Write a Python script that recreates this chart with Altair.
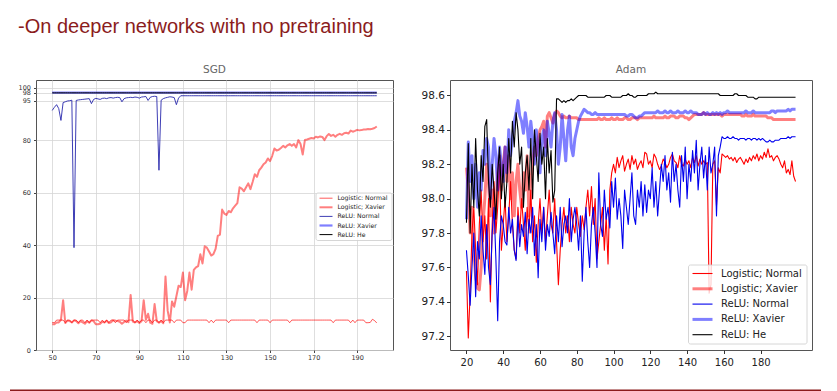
import altair as alt
import pandas as pd

TITLE = "-On deeper networks with no pretraining"
SGD_SERIES = ["Logistic: Normal", "Logistic; Xavier", "ReLU: Normal", "ReLU: Xavier", "ReLU: He"]
ADAM_SERIES = ["Logistic; Normal", "Logistic; Xavier", "ReLU: Normal", "ReLU: Xavier", "ReLU: He"]

sgd_epochs = list(range(50, 200))
sgd_x_ticks = [50, 70, 90, 110, 130, 150, 170, 190]
sgd_y_ticks = [0, 20, 40, 60, 80, 95, 98, 100]
adam_epochs = list(range(20, 200))
adam_x_ticks = [20, 40, 60, 80, 100, 120, 140, 160, 180]
adam_y_ticks = [97.2, 97.4, 97.6, 97.8, 98.0, 98.2, 98.4, 98.6]

# ---------------- SGD (epochs 50..199) ----------------
sgd_log_normal = [
    10.5, 10.4, 11.4, 11.4, 11.4, 11.4, 10.4, 11.4, 11.4, 10.4,
    11.4, 11.4, 10.4, 11.4, 11.4, 10.4, 11.4, 10.4, 11.4, 11.4,
    11.4, 11.4, 10.4, 11.4, 10.4, 11.4, 10.4, 11.4, 11.4, 10.4,
    11.4, 11.4, 11.4, 11.4, 10.4, 11.4, 11.4, 11.4, 10.4, 11.4,
    10.4, 11.4, 11.4, 10.4, 11.4, 11.4, 10.4, 11.4, 11.4, 10.4,
    11.4, 10.4, 11.4, 11.4, 11.4, 11.4, 10.4, 11.4, 11.4, 11.4,
    10.4, 10.4, 11.4, 11.4, 11.4, 11.4, 11.4, 11.4, 11.4, 11.4,
    11.4, 11.4, 10.4, 11.4, 10.4, 11.4, 11.4, 11.4, 11.4, 11.4,
    11.4, 10.4, 11.4, 11.4, 11.4, 11.4, 11.4, 11.4, 11.4, 11.4,
    11.4, 11.4, 11.4, 11.4, 10.4, 11.4, 11.4, 11.4, 11.4, 11.4,
    10.4, 11.4, 11.4, 11.4, 11.4, 11.4, 11.4, 11.4, 11.4, 10.4,
    11.4, 11.4, 11.4, 11.4, 11.4, 11.4, 11.4, 11.4, 11.4, 11.4,
    11.4, 11.4, 11.4, 11.4, 11.4, 11.4, 11.4, 11.4, 11.4, 10.4,
    11.4, 11.4, 11.4, 11.4, 11.4, 11.4, 11.4, 10.4, 11.4, 10.4,
    11.4, 11.4, 11.4, 11.4, 10.4, 10.4, 10.5, 11.7, 11.2, 10.3,
]
sgd_log_xavier = [
    9.8, 9.8, 10.5, 10.5, 11.5, 19.0, 10.3, 11.2, 11.0, 10.5,
    11.3, 11.0, 10.2, 11.0, 10.5, 10.0, 11.0, 10.4, 11.3, 11.0,
    9.8, 9.8, 10.0, 10.8, 10.5, 11.2, 10.3, 10.6, 11.3, 11.2,
    11.0, 10.8, 10.0, 10.7, 11.2, 10.6, 21.0, 10.8, 10.5, 11.0,
    10.3, 11.0, 19.0, 11.5, 13.8, 10.4, 10.0, 17.5, 11.0, 10.4,
    11.0, 10.2, 28.0, 15.0, 10.5, 18.5, 16.5, 20.5, 24.5, 24.0,
    29.5, 19.0, 22.5, 29.5, 23.0, 30.5, 31.5, 32.0, 36.5, 33.0,
    39.5, 39.0, 37.5, 36.0, 36.5, 38.5, 43.5, 44.0, 53.5, 52.0,
    51.5, 53.0, 52.5, 54.0, 55.0, 56.0, 62.0, 61.5, 60.5, 62.0,
    63.5, 61.3, 64.0, 67.0, 66.0, 68.5, 69.5, 70.8, 71.5, 73.0,
    72.0, 74.0, 76.8, 76.0, 76.3, 77.0, 77.8, 77.2, 78.0, 78.5,
    77.8, 78.5, 77.2, 80.0, 78.5, 74.5, 80.0, 80.2, 80.5, 80.8,
    80.6, 81.3, 81.0, 81.4, 81.2, 80.0, 81.5, 82.3, 81.6, 82.0,
    81.3, 82.0, 82.4, 82.0, 82.6, 82.8, 82.5, 83.6, 83.2, 83.5,
    83.9, 83.7, 83.8, 84.0, 84.0, 84.2, 84.1, 84.3, 84.6, 85.2,
]
sgd_relu_normal = [
    91.3, 92.5, 93.5, 92.0, 87.5, 94.3, 94.6, 94.9, 95.0, 95.2,
    39.0, 95.1, 95.3, 95.4, 95.5, 95.6, 95.7, 95.8, 93.9, 95.5,
    95.9, 95.7, 95.5, 95.9, 96.0, 95.8, 96.1, 96.2, 96.0, 96.2,
    96.3, 96.2, 94.6, 95.8, 96.1, 96.2, 96.3, 96.2, 96.4, 96.3,
    96.0, 96.4, 96.5, 96.6, 95.1, 96.3, 96.6, 96.7, 96.6, 68.5,
    95.2, 95.8, 96.1, 96.3, 96.5, 96.4, 96.2, 93.5, 96.0, 96.9,
] + [96.9] * 90
sgd_relu_xavier = [98.1] * 150
sgd_relu_he = [98.0] * 150

# ---------------- Adam (epochs 20..199) ----------------
adam_log_normal = [
    97.58, 97.19, 97.45, 97.80, 97.95, 97.70, 97.50, 97.85, 98.05, 97.75,
    97.90, 97.65, 98.00, 97.40, 97.85, 98.10, 97.80, 97.95, 98.20, 97.70,
    97.85, 98.00, 97.75, 97.90, 98.10, 97.85, 97.70, 97.65, 97.95, 97.80,
    98.00, 97.85, 97.70, 97.95, 97.80, 98.05, 97.75, 97.90, 97.63, 97.85,
    98.00, 97.80, 97.95, 97.75, 97.90, 98.05, 97.85, 97.80, 98.00, 97.75,
    97.50, 97.70, 97.85, 97.95, 97.80, 97.90, 97.75, 97.95, 97.85, 97.80,
    97.95, 97.85, 97.78, 97.90, 97.82, 97.95, 98.05, 97.90, 98.07, 97.85,
    98.00, 97.65, 97.75, 97.85, 97.95, 97.70, 97.90, 97.62, 98.05, 98.15,
    98.20, 98.15, 98.24, 98.18, 98.22, 98.25, 98.16, 98.20, 98.23, 98.17,
    98.25, 98.20, 98.23, 98.17, 98.20, 98.22, 98.18, 98.27, 98.26, 98.20,
    98.22, 98.18, 98.26, 98.24, 98.20, 98.17, 98.19, 98.23, 98.21, 98.18,
    98.20, 98.24, 98.26, 98.22, 98.21, 98.18, 98.25, 98.20, 98.19, 98.23,
    98.20, 98.22, 98.18, 98.24, 98.21, 98.25, 98.19, 98.23, 98.20, 98.22,
    98.20, 98.21, 97.45, 97.50, 98.20, 98.22, 97.96, 98.18, 98.15, 98.26,
    98.25, 98.24, 98.25, 98.23, 98.24, 98.22, 98.24, 98.21, 98.23, 98.24,
    98.22, 98.20, 98.23, 98.21, 98.24, 98.22, 98.25, 98.23, 98.26, 98.22,
    98.25, 98.23, 98.27, 98.24, 98.29, 98.24, 98.25, 98.22, 98.24, 98.25,
    98.23, 98.20, 98.18, 98.22, 98.15, 98.17, 98.14, 98.22, 98.13, 98.10,
]
adam_log_xavier = [
    98.18, 98.05, 97.80, 97.95, 97.70, 97.55, 97.48, 97.47, 97.60, 97.85,
    98.00, 98.20, 98.10, 97.90, 98.05, 97.80, 97.95, 98.15, 98.25, 98.05,
    98.20, 98.30, 98.10, 98.25, 98.00, 98.15, 97.90, 98.10, 98.20, 98.05,
    97.95, 98.15, 98.05, 98.25, 97.90, 98.10, 98.20, 98.30, 98.25, 98.35,
    98.40, 98.42, 98.45, 98.30, 98.48, 98.50, 98.47, 98.44, 98.49, 98.51,
    98.50, 98.48, 98.47, 98.48, 98.47, 98.47, 98.48, 98.47, 98.47, 98.47,
    98.47, 98.46, 98.46, 98.46, 98.46, 98.46, 98.46, 98.46, 98.46, 98.46,
    98.46, 98.46, 98.47, 98.46, 98.46, 98.47, 98.46, 98.46, 98.46, 98.47,
    98.46, 98.46, 98.47, 98.46, 98.46, 98.46, 98.47, 98.47, 98.46, 98.46,
    98.47, 98.47, 98.47, 98.46, 98.47, 98.47, 98.47, 98.47, 98.47, 98.47,
    98.47, 98.47, 98.48, 98.47, 98.47, 98.47, 98.47, 98.47, 98.48, 98.47,
    98.47, 98.48, 98.48, 98.48, 98.47, 98.47, 98.48, 98.48, 98.48, 98.47,
    98.47, 98.46, 98.47, 98.48, 98.49, 98.49, 98.49, 98.49, 98.49, 98.50,
    98.49, 98.49, 98.49, 98.49, 98.49, 98.49, 98.49, 98.49, 98.49, 98.48,
    98.49, 98.49, 98.49, 98.49, 98.49, 98.49, 98.49, 98.49, 98.49, 98.49,
    98.48, 98.48, 98.49, 98.48, 98.48, 98.48, 98.49, 98.48, 98.48, 98.48,
    98.48, 98.48, 98.48, 98.48, 98.47, 98.47, 98.47, 98.46, 98.46, 98.46,
    98.46, 98.46, 98.46, 98.46, 98.46, 98.46, 98.46, 98.46, 98.46, 98.46,
]
adam_relu_normal = [
    97.70, 97.55, 97.38, 97.60, 97.80, 97.43, 97.75, 97.65, 97.90, 97.70,
    97.56, 97.85, 97.60, 97.50, 97.80, 97.95, 97.65, 97.29, 97.75, 97.90,
    97.85, 97.75, 97.73, 97.95, 97.80, 97.88, 97.70, 97.64, 97.90, 97.72,
    97.85, 97.78, 97.92, 97.68, 97.88, 97.80, 97.95, 97.67, 97.85, 97.54,
    97.88, 97.75, 97.95, 97.70, 97.85, 97.78, 97.92, 97.80, 97.68, 97.90,
    97.75, 97.95, 97.72, 97.85, 97.90, 97.80, 98.00, 97.75, 97.88, 97.95,
    97.85, 97.70, 97.90, 97.52, 97.80, 97.95, 97.75, 97.60, 97.85, 97.95,
    97.80, 97.60, 98.15, 97.85, 97.78, 98.05, 97.88, 97.95, 97.83, 98.10,
    97.95, 98.12, 97.88, 98.00, 97.90, 97.71, 98.05, 97.95, 97.85, 98.00,
    98.15, 97.90, 97.85, 98.05, 97.95, 98.10, 97.90, 98.08, 97.92, 98.05,
    98.00, 98.18, 97.95, 98.10, 97.90, 98.05, 98.20, 98.10, 98.25, 98.05,
    98.15, 97.98, 98.27, 98.10, 98.20, 98.05, 97.95, 98.25, 98.10, 98.30,
    98.00, 98.20, 98.10, 98.28, 98.15, 98.34, 98.05, 98.20, 98.30, 98.12,
    98.25, 98.05, 98.30, 98.15, 98.20, 98.30, 97.90, 98.25, 98.30, 98.36,
    98.35, 98.35, 98.36, 98.35, 98.35, 98.36, 98.35, 98.35, 98.34, 98.35,
    98.35, 98.35, 98.34, 98.35, 98.35, 98.34, 98.35, 98.35, 98.34, 98.35,
    98.34, 98.35, 98.34, 98.33, 98.33, 98.34, 98.33, 98.33, 98.34, 98.34,
    98.34, 98.35, 98.35, 98.35, 98.35, 98.36, 98.35, 98.36, 98.36, 98.36,
]
adam_relu_xavier = [
    97.88, 98.33, 98.10, 98.25, 98.00, 98.20, 97.95, 98.15, 98.05, 98.28,
    98.20, 98.35, 98.30, 98.00, 98.20, 98.35, 98.25, 98.05, 98.30, 98.20,
    98.10, 98.30, 98.15, 98.40, 98.25, 98.35, 98.45, 98.50, 98.57, 98.48,
    98.45, 98.38, 98.50, 98.42, 98.30, 98.45, 98.35, 98.20, 98.40, 98.30,
    98.15, 98.35, 98.40, 98.25, 98.45, 98.38, 98.30, 98.45, 98.50, 98.40,
    98.20, 98.30, 98.49, 98.35, 98.22, 98.40, 98.48, 98.30, 98.25, 98.35,
    98.40, 98.45, 98.48, 98.50, 98.52, 98.51, 98.50, 98.50, 98.49, 98.49,
    98.50, 98.49, 98.49, 98.49, 98.49, 98.49, 98.49, 98.49, 98.49, 98.49,
    98.49, 98.49, 98.49, 98.49, 98.49, 98.49, 98.49, 98.48, 98.48, 98.49,
    98.49, 98.48, 98.47, 98.47, 98.48, 98.48, 98.49, 98.50, 98.50, 98.50,
    98.50, 98.50, 98.50, 98.50, 98.51, 98.50, 98.50, 98.50, 98.51, 98.50,
    98.50, 98.51, 98.50, 98.50, 98.50, 98.51, 98.50, 98.50, 98.50, 98.51,
    98.50, 98.50, 98.51, 98.50, 98.50, 98.50, 98.49, 98.49, 98.49, 98.50,
    98.49, 98.50, 98.49, 98.49, 98.50, 98.49, 98.50, 98.49, 98.50, 98.49,
    98.50, 98.50, 98.51, 98.50, 98.50, 98.50, 98.50, 98.50, 98.50, 98.50,
    98.50, 98.50, 98.51, 98.50, 98.50, 98.50, 98.51, 98.50, 98.50, 98.50,
    98.50, 98.50, 98.50, 98.50, 98.50, 98.50, 98.51, 98.51, 98.50, 98.51,
    98.51, 98.51, 98.51, 98.51, 98.51, 98.52, 98.51, 98.52, 98.52, 98.52,
]
adam_relu_he = [
    97.86, 98.32, 97.80, 98.20, 97.95, 98.35, 98.05, 97.90, 98.25, 98.10,
    98.42, 98.46, 98.10, 97.95, 98.20, 98.05, 97.88, 98.15, 98.30, 98.00,
    98.20, 97.95, 98.10, 98.35, 98.15, 98.45, 98.30, 98.50, 98.40, 98.20,
    98.30, 97.95, 98.15, 98.25, 98.05, 98.35, 98.00, 98.40, 98.25, 98.10,
    98.38, 98.20, 98.30, 98.00, 98.35, 98.15, 98.28, 97.98, 98.05, 98.58,
    98.58, 98.57, 98.56, 98.57, 98.56, 98.57, 98.57, 98.58, 98.57, 98.58,
    98.59, 98.60, 98.60, 98.60, 98.60, 98.60, 98.59, 98.59, 98.59, 98.59,
    98.59, 98.59, 98.59, 98.59, 98.59, 98.59, 98.60, 98.60, 98.60, 98.59,
    98.59, 98.59, 98.59, 98.59, 98.59, 98.60, 98.60, 98.60, 98.61, 98.60,
    98.60, 98.59, 98.59, 98.60, 98.60, 98.60, 98.60, 98.60, 98.60, 98.61,
    98.61, 98.61, 98.61, 98.62, 98.61, 98.61, 98.61, 98.61, 98.61, 98.61,
    98.61, 98.61, 98.61, 98.61, 98.61, 98.61, 98.61, 98.61, 98.61, 98.61,
    98.61, 98.61, 98.61, 98.61, 98.61, 98.61, 98.61, 98.61, 98.61, 98.61,
    98.61, 98.61, 98.61, 98.61, 98.61, 98.61, 98.61, 98.61, 98.60, 98.60,
    98.60, 98.60, 98.60, 98.60, 98.60, 98.60, 98.61, 98.61, 98.60, 98.60,
    98.60, 98.60, 98.60, 98.59, 98.59, 98.59, 98.59, 98.58, 98.58, 98.59,
    98.59, 98.59, 98.59, 98.59, 98.59, 98.59, 98.59, 98.59, 98.59, 98.59,
    98.59, 98.59, 98.59, 98.59, 98.59, 98.59, 98.59, 98.59, 98.59, 98.59,
]

# ---------------- styles ----------------
SGD_COLORS = ["#ff0000", "#ff0000", "#1c1ca8", "#0000ff", "#000000"]
SGD_WIDTHS = [1.0, 2.0, 1.0, 2.2, 1.0]
SGD_OPAC = [0.65, 0.5, 0.85, 0.5, 1.0]
ADAM_COLORS = ["#ff0000", "#ff0000", "#0000ee", "#0000ff", "#000000"]
ADAM_WIDTHS = [1.1, 3.0, 1.1, 3.0, 1.1]
ADAM_OPAC = [1.0, 0.5, 1.0, 0.5, 1.0]
DARK_RED = "#8b1c1c"
FONT = "DejaVu Sans"

W_L, W_R, H = 357, 362, 270
one = alt.Data(values=[{"k": 1}])


def series_layers(epochs, series, colors, widths, opac, x_enc, y_enc):
    out = []
    for vals, c, w, o in zip(series, colors, widths, opac):
        df = pd.DataFrame({"epoch": epochs, "acc": vals})
        out.append(
            alt.Chart(df).mark_line(color=c, strokeWidth=w, opacity=o, strokeJoin="round")
            .encode(x=x_enc, y=y_enc)
        )
    return out


def legend_layers(labels, colors, widths, opac, box, sw, lab_x, rows, fsize):
    out = [
        alt.Chart(one).mark_rect(fill="white", fillOpacity=0.8, stroke="#cccccc",
                                 strokeWidth=0.8, cornerRadius=2)
        .encode(x=alt.value(box[0]), x2=alt.value(box[1]), y=alt.value(box[2]), y2=alt.value(box[3]))
    ]
    for lab, c, w, o, ry in zip(labels, colors, widths, opac, rows):
        out.append(
            alt.Chart(one).mark_rule(color=c, strokeWidth=w, opacity=o)
            .encode(x=alt.value(sw[0]), x2=alt.value(sw[1]), y=alt.value(ry))
        )
        out.append(
            alt.Chart(one).mark_text(text=lab, font=FONT, fontSize=fsize, color="#222222",
                                     align="left", baseline="middle")
            .encode(x=alt.value(lab_x), y=alt.value(ry))
        )
    return out


# ---------------- SGD panel ----------------
sgd_x = alt.X("epoch:Q", scale=alt.Scale(domain=[42.55, 206.45], nice=False, zero=False),
              axis=alt.Axis(values=sgd_x_ticks, title=None, grid=True, gridColor="#d6d6d6",
                            gridWidth=0.8, domain=False, labelFont=FONT, labelFontSize=6.5,
                            labelColor="#333", tickColor="#444", tickSize=2.5, labelPadding=1.5,
                            labelFlush=False, labelOverlap=False, format="d"))
sgd_y = alt.Y("acc:Q", scale=alt.Scale(domain=[0, 102.9], nice=False, zero=False),
              axis=alt.Axis(values=sgd_y_ticks, title=None, grid=True, gridColor="#d6d6d6",
                            gridWidth=0.8, domain=False, labelFont=FONT, labelFontSize=6.5,
                            labelColor="#333", tickColor="#444", tickSize=2.5, labelPadding=3,
                            labelFlush=False, labelOverlap=False, format="d"))

sgd_lines = series_layers(sgd_epochs,
                          [sgd_log_normal, sgd_log_xavier, sgd_relu_normal, sgd_relu_xavier, sgd_relu_he],
                          SGD_COLORS, SGD_WIDTHS, SGD_OPAC, sgd_x, sgd_y)
sgd_leg = legend_layers(SGD_SERIES, SGD_COLORS, SGD_WIDTHS, SGD_OPAC,
                        box=(280, 356, 113, 160.5), sw=(283.5, 296.5), lab_x=301.5,
                        rows=[118.2, 127.3, 136.4, 145.5, 154.6], fsize=6.2)

slide_title = alt.Chart(one).mark_text(
    text=TITLE, font="Liberation Sans", fontSize=20, color=DARK_RED, align="left", baseline="alphabetic"
).encode(x=alt.value(-18), y=alt.value(-47))
sgd_title = alt.Chart(one).mark_text(
    text="SGD", font=FONT, fontSize=10.5, color="#666666", align="center", baseline="alphabetic"
).encode(x=alt.value(W_L / 2), y=alt.value(-7))
bottom_rule = alt.Chart(one).mark_rule(color=DARK_RED, strokeWidth=2).encode(
    x=alt.value(-26), x2=alt.value(785), y=alt.value(310.5))

left = alt.layer(*sgd_lines, *sgd_leg, slide_title, sgd_title, bottom_rule).properties(width=W_L, height=H)

# ---------------- Adam panel ----------------
adam_x = alt.X("epoch:Q", scale=alt.Scale(domain=[11.05, 207.95], nice=False, zero=False),
               axis=alt.Axis(values=adam_x_ticks, title=None, grid=False, domain=False, labelFont=FONT,
                             labelFontSize=10, labelColor="#222", tickColor="#333", tickSize=3.5,
                             labelPadding=3.5, labelFlush=False, labelOverlap=False, format="d"))
adam_y = alt.Y("acc:Q", scale=alt.Scale(domain=[97.12, 98.69], nice=False, zero=False),
               axis=alt.Axis(values=adam_y_ticks, title=None, grid=False, domain=False, labelFont=FONT,
                             labelFontSize=10.5, labelColor="#222", tickColor="#333", tickSize=3.5,
                             labelPadding=2, labelFlush=False, labelOverlap=False, format=".1f"))

adam_lines = series_layers(adam_epochs,
                           [adam_log_normal, adam_log_xavier, adam_relu_normal, adam_relu_xavier, adam_relu_he],
                           ADAM_COLORS, ADAM_WIDTHS, ADAM_OPAC, adam_x, adam_y)
adam_leg = legend_layers(ADAM_SERIES, ADAM_COLORS, ADAM_WIDTHS, ADAM_OPAC,
                         box=(238.5, 357, 185, 264), sw=(242.5, 262.5), lab_x=271,
                         rows=[193.5, 208.8, 224.1, 239.4, 254.7], fsize=10)
adam_title = alt.Chart(one).mark_text(
    text="Adam", font=FONT, fontSize=10.5, color="#666666", align="center", baseline="alphabetic"
).encode(x=alt.value(W_R / 2), y=alt.value(-7))

right = alt.layer(*adam_lines, *adam_leg, adam_title).properties(width=W_R, height=H)

chart = alt.hconcat(left, right, spacing=57, bounds="flush").properties(
    padding={"left": 0, "top": 8, "right": 0, "bottom": 0}
).configure_view(stroke="#555555", strokeWidth=1)

chart.save("out.html", embed_options={"renderer": "svg", "actions": False})
